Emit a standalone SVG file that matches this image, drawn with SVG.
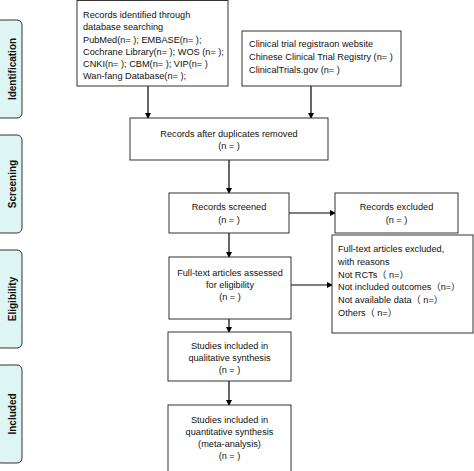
<svg xmlns="http://www.w3.org/2000/svg" width="474" height="471" viewBox="0 0 474 471">
<style>
.bg{fill:#ffffff}
.box{fill:#ffffff;stroke:#333333;stroke-width:1}
.side{fill:#ddf6f4;stroke:#333333;stroke-width:1}
.t{font-family:"Liberation Sans","Noto Sans CJK SC",sans-serif;font-size:9.2px;fill:#111111}
.c{text-anchor:middle}
.s{font-family:"Liberation Sans",sans-serif;font-size:10px;font-weight:bold;fill:#111111;text-anchor:middle}
.ln{stroke:#000000;stroke-width:1.2;fill:none;marker-end:url(#ah)}
</style>
<defs>
<marker id="ah" markerWidth="6" markerHeight="6" refX="5" refY="3" orient="auto" markerUnits="userSpaceOnUse">
<path d="M0,0 L6,3 L0,6 Z" fill="#000000"/>
</marker>
</defs>
<rect class="bg" x="0" y="0" width="474" height="471"/>

<g id="stage-identification">
<rect class="side" x="-4" y="20" width="26" height="98" rx="5"/>
<text class="s" transform="translate(15.5,69) rotate(-90)">Identification</text>
</g>
<g id="stage-screening">
<rect class="side" x="-4" y="135" width="26" height="98" rx="5"/>
<text class="s" transform="translate(15.5,184) rotate(-90)">Screening</text>
</g>
<g id="stage-eligibility">
<rect class="side" x="-4" y="250" width="26" height="98" rx="5"/>
<text class="s" transform="translate(15.5,299) rotate(-90)">Eligibility</text>
</g>
<g id="stage-included">
<rect class="side" x="-4" y="365" width="26" height="98" rx="5"/>
<text class="s" transform="translate(15.5,414) rotate(-90)">Included</text>
</g>

<g id="connectors">
<line class="ln" x1="148" y1="86" x2="148" y2="118"/>
<line class="ln" x1="311" y1="86" x2="311" y2="118"/>
<line class="ln" x1="229" y1="160" x2="229" y2="193"/>
<line class="ln" x1="229" y1="233" x2="229" y2="257"/>
<line class="ln" x1="289" y1="213" x2="335" y2="213"/>
<line class="ln" x1="291" y1="285" x2="332" y2="285"/>
<line class="ln" x1="229" y1="319" x2="229" y2="332"/>
<line class="ln" x1="229" y1="381" x2="229" y2="405"/>
</g>

<g id="records-identified">
<rect class="box" x="77" y="0.5" width="151" height="85.5"/>
<text class="t" x="83" y="18">Records identified through</text>
<text class="t" x="83" y="30">database searching</text>
<text class="t" x="83" y="42.5">PubMed(n= ); EMBASE(n= );</text>
<text class="t" x="83" y="55">Cochrane Library(n= ); WOS (n= );</text>
<text class="t" x="83" y="67">CNKI(n= );  CBM(n= );  VIP(n= )</text>
<text class="t" x="83" y="79">Wan-fang Database(n= );</text>
</g>

<g id="clinical-trial">
<rect class="box" x="242" y="31" width="159" height="55"/>
<text class="t" x="249" y="47">Clinical trial registraon website</text>
<text class="t" x="249" y="60">Chinese Clinical Trial Registry (n= )</text>
<text class="t" x="249" y="72.5">ClinicalTrials.gov (n= )</text>
</g>

<g id="duplicates-removed">
<rect class="box" x="130" y="118" width="198" height="42"/>
<text class="t c" x="229" y="137">Records after duplicates removed</text>
<text class="t c" x="229" y="149">(n =    )</text>
</g>

<g id="records-screened">
<rect class="box" x="169" y="193" width="120" height="40"/>
<text class="t c" x="229" y="210">Records screened</text>
<text class="t c" x="229" y="223">(n =    )</text>
</g>

<g id="records-excluded">
<rect class="box" x="335" y="193" width="123" height="40"/>
<text class="t c" x="396.5" y="210">Records excluded</text>
<text class="t c" x="396.5" y="223">(n =    )</text>
</g>

<g id="fulltext-excluded">
<rect class="box" x="332" y="235" width="141" height="98"/>
<text class="t" x="338" y="252">Full-text articles excluded,</text>
<text class="t" x="338" y="265">with reasons</text>
<text class="t" x="338" y="277.5">Not RCTs（ n=）</text>
<text class="t" x="338" y="290">Not included outcomes（n=）</text>
<text class="t" x="338" y="303">Not available data（ n=）</text>
<text class="t" x="338" y="316">Others（ n=）</text>
</g>

<g id="fulltext-assessed">
<rect class="box" x="169" y="257" width="122" height="62"/>
<text class="t c" x="230" y="276">Full-text articles assessed</text>
<text class="t c" x="230" y="288">for eligibility</text>
<text class="t c" x="230" y="300">(n =   )</text>
</g>

<g id="qualitative">
<rect class="box" x="168" y="332" width="123" height="49"/>
<text class="t c" x="229.5" y="349">Studies included in</text>
<text class="t c" x="229.5" y="361">qualitative synthesis</text>
<text class="t c" x="229.5" y="372.5">(n =    )</text>
</g>

<g id="quantitative">
<rect class="box" x="168" y="405" width="123" height="72"/>
<text class="t c" x="229.5" y="423">Studies included in</text>
<text class="t c" x="229.5" y="435">quantitative synthesis</text>
<text class="t c" x="229.5" y="447">(meta-analysis)</text>
<text class="t c" x="229.5" y="459">(n =    )</text>
</g>
</svg>
